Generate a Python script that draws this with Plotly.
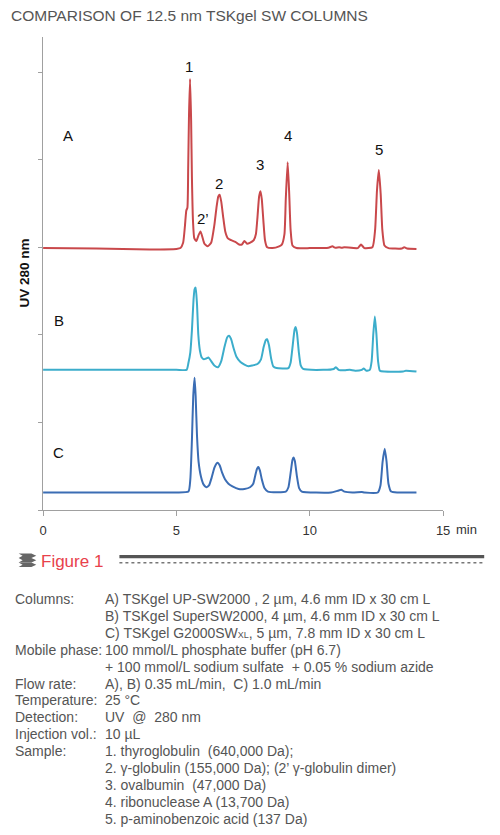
import plotly.graph_objects as go

# ---------------- data ----------------
time_a = [0, 2, 4, 5.0, 5.15, 5.25, 5.32, 5.37, 5.41, 5.44, 5.47, 5.51, 5.55, 5.58, 5.62, 5.67,
          5.75, 5.82, 5.90, 5.97, 6.05, 6.17, 6.30, 6.42, 6.50, 6.57, 6.62, 6.68, 6.75, 6.83,
          6.93, 7.05, 7.21, 7.35, 7.45, 7.55, 7.65, 7.75, 7.90, 7.98, 8.04, 8.10, 8.15, 8.20,
          8.26, 8.32, 8.40, 8.60, 8.85, 8.95, 9.05, 9.10, 9.17, 9.23, 9.28, 9.35, 9.50, 10.0,
          10.7, 10.85, 10.95, 11.1, 11.2, 11.3, 11.8, 11.92, 12.05, 12.35, 12.45, 12.52, 12.59,
          12.66, 12.72, 12.80, 12.95, 13.45, 13.54, 13.65, 14.0]
signal_a = [2.99, 2.985, 2.975, 2.98, 2.99, 3.05, 3.25, 3.42, 3.45, 3.9, 4.5, 4.92, 4.45, 3.8, 3.3, 3.1,
            3.07, 3.13, 3.18, 3.12, 3.04, 3.01, 3.05, 3.25, 3.45, 3.58, 3.60, 3.52, 3.35, 3.18,
            3.10, 3.08, 3.06, 3.03, 3.03, 3.07, 3.04, 3.05, 3.08, 3.15, 3.35, 3.58, 3.64, 3.55,
            3.30, 3.08, 3.00, 2.99, 3.01, 3.03, 3.15, 3.55, 3.97, 3.60, 3.20, 3.02, 2.99, 2.99,
            2.995, 3.01, 2.995, 3.0, 2.995, 3.0, 2.99, 3.03, 2.99, 3.0, 3.2, 3.65, 3.88,
            3.60, 3.20, 3.02, 2.99, 2.985, 3.0, 2.985, 2.98]

time_b = [0, 3, 5.0, 5.38, 5.45, 5.52, 5.58, 5.64, 5.68, 5.72, 5.77, 5.82, 5.88, 5.95, 6.03,
          6.12, 6.20, 6.30, 6.42, 6.56, 6.68, 6.80, 6.90, 6.97, 7.05, 7.15, 7.25, 7.40, 7.55,
          7.70, 7.85, 8.05, 8.17, 8.27, 8.35, 8.40, 8.47, 8.55, 8.63, 8.75, 9.20, 9.28, 9.36,
          9.43, 9.47, 9.52, 9.59, 9.66, 9.75, 10.5, 10.9, 10.98, 11.08, 11.3, 11.5, 11.7, 11.95,
          12.02, 12.12, 12.25, 12.32, 12.38, 12.44, 12.50, 12.56, 12.63, 12.8, 13.5, 13.6, 14.0]
signal_b = [1.60, 1.60, 1.60, 1.60, 1.68, 1.80, 2.05, 2.40, 2.52, 2.54, 2.35, 2.00, 1.82, 1.74, 1.72,
            1.73, 1.74, 1.70, 1.65, 1.63, 1.70, 1.86, 1.97, 1.99, 1.95, 1.84, 1.75, 1.69, 1.66,
            1.64, 1.65, 1.67, 1.72, 1.86, 1.94, 1.95, 1.88, 1.73, 1.64, 1.62, 1.62, 1.68, 1.88,
            2.06, 2.09, 2.02, 1.80, 1.65, 1.61, 1.60, 1.61, 1.63, 1.60, 1.595, 1.60, 1.59, 1.60,
            1.615, 1.59, 1.60, 1.70, 2.00, 2.21, 2.00, 1.70, 1.59, 1.58, 1.58, 1.59, 1.58]

time_c = [0, 3, 5.0, 5.45, 5.52, 5.58, 5.63, 5.68, 5.72, 5.77, 5.83, 5.92, 6.02, 6.12, 6.22,
          6.32, 6.42, 6.50, 6.55, 6.62, 6.72, 6.82, 6.95, 7.10, 7.33, 7.55, 7.76, 7.88, 7.96,
          8.02, 8.07, 8.13, 8.20, 8.30, 8.43, 9.10, 9.20, 9.28, 9.35, 9.39, 9.44, 9.52, 9.60,
          9.70, 10.8, 11.05, 11.18, 11.3, 11.6, 11.95, 12.05, 12.55, 12.65, 12.73, 12.81, 12.88,
          12.95, 13.05, 13.3, 14.0]
signal_c = [0.20, 0.20, 0.20, 0.21, 0.35, 0.80, 1.30, 1.51, 1.30, 0.85, 0.55, 0.38, 0.29, 0.26, 0.28,
            0.37, 0.48, 0.53, 0.54, 0.51, 0.42, 0.35, 0.30, 0.27, 0.24, 0.24, 0.26, 0.30, 0.40,
            0.47, 0.49, 0.45, 0.35, 0.25, 0.21, 0.21, 0.26, 0.42, 0.57, 0.60, 0.56, 0.38, 0.25,
            0.21, 0.20, 0.22, 0.23, 0.21, 0.20, 0.205, 0.20, 0.20, 0.28, 0.55, 0.70, 0.55,
            0.30, 0.21, 0.20, 0.20]

trace_labels = ["A", "B", "C"]
trace_label_time = [0.92, 0.59, 0.59]
trace_label_value = [4.28, 2.16, 0.66]
peak_labels = ["1", "2’", "2", "3", "4", "5"]
peak_label_time = [5.46, 6.01, 6.60, 8.14, 9.17, 12.61]
peak_label_value = [5.06, 3.33, 3.73, 3.94, 4.28, 4.12]

x_ticks = [0, 5, 10, 15]
x_tick_text = ["0", "5", "10", "15"]

info_labels = ["Columns:", "", "", "Mobile phase:", "", "Flow rate:", "Temperature:",
               "Detection:", "Injection vol.:", "Sample:", "", "", "", ""]
info_values = [
    "A) TSKgel UP-SW2000 , 2 µm, 4.6 mm ID x 30 cm L",
    "B) TSKgel SuperSW2000, 4 µm, 4.6 mm ID x 30 cm L",
    "C) TSKgel G2000SW<span style='font-size:9px'>XL</span>, 5 µm, 7.8 mm ID x 30 cm L",
    "100 mmol/L phosphate buffer (pH 6.7)",
    "+ 100 mmol/L sodium sulfate &nbsp;+ 0.05 % sodium azide",
    "A), B) 0.35 mL/min, &nbsp;C) 1.0 mL/min",
    "25 °C",
    "UV &nbsp;@ &nbsp;280 nm",
    "10 µL",
    "1. thyroglobulin &nbsp;(640,000 Da);",
    "2. γ-globulin (155,000 Da); (2’ γ-globulin dimer)",
    "3. ovalbumin &nbsp;(47,000 Da)",
    "4. ribonuclease A (13,700 Da)",
    "5. p-aminobenzoic acid (137 Da)",
]

# ---------------- figure ----------------
W, H = 500, 835


def px(x):
    return x / W


def py(y):
    return 1 - y / H


colors = ["#c9484b", "#3cadcb", "#3b6db4"]
fig = go.Figure()
for t, s, c in zip([time_a, time_b, time_c], [signal_a, signal_b, signal_c], colors):
    fig.add_trace(go.Scatter(x=t, y=s, mode="lines",
                             line=dict(color=c, width=2, shape="spline", smoothing=0.5),
                             hoverinfo="skip", showlegend=False))

font_main = "Liberation Sans, Arial, sans-serif"
ann = []
for lab, xx, yy in zip(trace_labels, trace_label_time, trace_label_value):
    ann.append(dict(x=xx, y=yy, xref="x", yref="y", text=lab, showarrow=False, yanchor="middle",
                    font=dict(size=15, color="#111", family=font_main)))
for lab, xx, yy in zip(peak_labels, peak_label_time, peak_label_value):
    ann.append(dict(x=xx, y=yy, xref="x", yref="y", text=lab, showarrow=False, yanchor="middle",
                    font=dict(size=15, color="#111", family=font_main)))

# axis title and extras
ann.append(dict(x=px(20), y=py(273), xref="paper", yref="paper", text="<b>UV 280 nm</b>", textangle=-90,
                showarrow=False, xanchor="center", yanchor="middle",
                font=dict(size=13.5, color="#111", family=font_main)))
ann.append(dict(x=px(460), y=py(529), xref="paper", yref="paper", text="min", xanchor="left",
                yanchor="middle", showarrow=False, font=dict(size=13, color="#333", family=font_main)))
ann.append(dict(x=px(5), y=py(16), xref="paper", yref="paper",
                text="COMPARISON OF 12.5 nm TSKgel SW COLUMNS", xanchor="left", yanchor="middle",
                showarrow=False, font=dict(size=15.5, color="#555", family=font_main)))
ann.append(dict(x=px(36), y=py(561), xref="paper", yref="paper", text="Figure 1", xanchor="left",
                yanchor="middle", showarrow=False, font=dict(size=17, color="#e8414b", family=font_main)))

line_y = [599.3, 616, 633, 650, 666.7, 683.7, 700.3, 717.3, 734.3, 751, 768, 785, 801.7, 818.7]
for lab, val, yy in zip(info_labels, info_values, line_y):
    if lab:
        ann.append(dict(x=px(9), y=py(yy), xref="paper", yref="paper", text=lab, xanchor="left",
                        yanchor="middle", showarrow=False,
                        font=dict(size=14, color="#555", family=font_main)))
    ann.append(dict(x=px(101), y=py(yy), xref="paper", yref="paper", text=val, xanchor="left",
                    yanchor="middle", showarrow=False,
                    font=dict(size=14, color="#555", family=font_main)))

shapes = [
    dict(type="line", xref="paper", yref="paper", x0=px(118), x1=px(491), y0=py(556.7), y1=py(556.7),
         line=dict(color="#555", width=3.3)),
    dict(type="line", xref="paper", yref="paper", x0=px(118), x1=px(491), y0=py(562.7), y1=py(562.7),
         line=dict(color="#777", width=1.4, dash="dot")),
]
# figure icon: three stacked chevrons
for y0 in [553.5, 558.0, 562.5]:
    pts = [(15, y0), (28, y0), (33, y0 + 2.2), (28, y0 + 4.4), (15, y0 + 4.4), (19, y0 + 2.2)]
    path = "M " + " L ".join(f"{px(a):.5f},{py(b):.5f}" for a, b in pts) + " Z"
    shapes.append(dict(type="path", xref="paper", yref="paper", path=path,
                       fillcolor="#666", line=dict(width=0)))

fig.update_layout(
    width=W, height=H, margin=dict(l=0, r=0, t=0, b=0),
    paper_bgcolor="white", plot_bgcolor="white",
    annotations=ann, shapes=shapes, showlegend=False,
    xaxis=dict(domain=[px(40), px(449)], range=[0, 15], tickvals=x_ticks, ticktext=x_tick_text,
               showgrid=False, zeroline=False, showline=True, linecolor="#a0a0a0", linewidth=1.3,
               ticks="outside", ticklen=5, tickcolor="#a0a0a0", tickwidth=1, ticklabelstandoff=3,
               tickfont=dict(size=13, color="#333", family=font_main), fixedrange=True),
    yaxis=dict(domain=[py(510), py(37)], range=[0, 473 / 87.6], tickvals=[0, 1, 2, 3, 4, 5],
               showticklabels=False, showgrid=False, zeroline=False, showline=True,
               linecolor="#a0a0a0", linewidth=1.3, ticks="outside", ticklen=4, tickcolor="#a0a0a0",
               fixedrange=True),
)

fig.write_html("out.html", config={"displayModeBar": False},
               post_script="document.body.style.margin='0';")
